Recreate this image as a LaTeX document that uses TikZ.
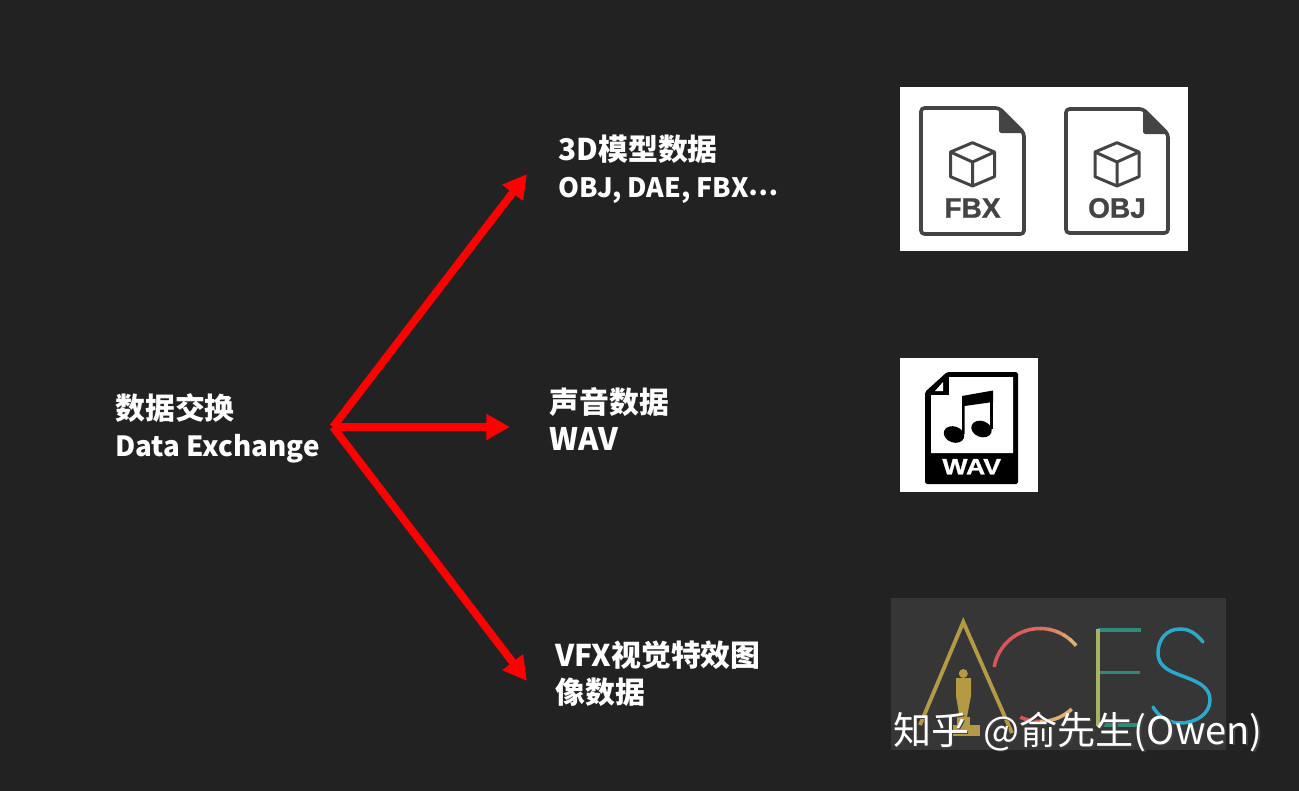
\documentclass[tikz,border=0pt]{standalone}
\usepackage{fontspec}
\setmainfont{Noto Sans CJK SC}
\newfontfamily\iconfont[BoldFont={Liberation Sans Bold},BoldFeatures={FakeBold=1}]{Liberation Sans}
\usetikzlibrary{arrows.meta}
\definecolor{bgdark}{HTML}{222222}
\definecolor{panelgray}{HTML}{363636}
\definecolor{icongray}{HTML}{444444}
\definecolor{gold}{HTML}{B59A45}
\definecolor{cred}{HTML}{D9555A}
\definecolor{ctan}{HTML}{E0B070}
\definecolor{egreen}{HTML}{A5B565}
\definecolor{eteal}{HTML}{2F8A78}
\definecolor{sblue}{HTML}{2BA8CC}
\newcommand{\latinA}{\fontsize{15.8}{21}\selectfont}
\newcommand{\latinB}{\fontsize{15.2}{21}\selectfont}
\newcommand{\latinC}{\fontsize{17.6}{21}\selectfont}
\tikzset{
  redarrow/.style={draw=red,line width=4.4pt,-{Triangle[length=13.5pt,width=14pt]}},
  label/.style={anchor=west,inner sep=0pt,align=left,text=white,font=\fontsize{17}{21.2}\selectfont\bfseries},
  filebox/.style={draw=icongray,line width=2.1pt,rounded corners=2pt,line join=round},
  cube/.style={draw=icongray,line width=1.7pt,line join=round},
  icontext/.style={inner sep=0pt,text=icongray,font=\fontsize{16}{18}\iconfont\bfseries},
  logoline/.style={line width=2pt},
  wmark/.style={inner sep=0pt,anchor=west,font=\fontsize{21.7}{24}\selectfont}
}
\begin{document}
\begin{tikzpicture}[x=0.02cm,y=-0.02cm]
\fill[bgdark](0,0)rectangle(1299,791);
\coordinate (hub) at (333,427);
\coordinate (modeltip) at (527,174);
\coordinate (soundtip) at (510,427);
\coordinate (vfxtip) at (527,681);
\foreach \e in {modeltip,soundtip,vfxtip}
  \draw[redarrow](hub)--(\e);
\node[label](xchg) at (115,428.5) {数据交换\\\latinA Data Exchange};
\node[label](model) at (558,169) {3D模型数据\\\latinB OBJ, DAE, FBX\raisebox{1.2pt}{⋯}};
\node[label](sound) at (549.5,419) {声音数据\\\latinC WAV};
\node[label](vfx) at (555,674) {VFX视觉特效图\\像数据};
% model files
\fill[white](900,87)rectangle(1188,251);
\draw[filebox](999,108)--(921,108)--(921,234)--(1024,234)--(1024,133)--cycle;
\fill[icongray,rounded corners=1pt](999,108)--(1024,133)--(999,133)--cycle;
\draw[filebox](1143,109)--(1066,109)--(1066,233)--(1168,233)--(1168,134)--cycle;
\fill[icongray,rounded corners=1pt](1143,109)--(1168,134)--(1143,134)--cycle;
\foreach \cx in {972.5,1117}{
  \draw[cube](\cx,142.7)--(\cx+22,152)--(\cx+22,176.7)--(\cx,186)--(\cx-22,176.7)--(\cx-22,152)--cycle;
  \draw[cube](\cx-22,152)--(\cx,162)--(\cx+22,152)(\cx,162)--(\cx,186);
}
\node[icontext](fbx) at (972.5,208) {FBX};
\node[icontext](obj) at (1117,208) {OBJ};
% wav file
\fill[white](900,358)rectangle(1038,492);
\fill[black,rounded corners=1pt](947,372)--(1018,372)--(1018,484)--(925,484)--(925,392)--cycle;
\fill[white](949,377)--(1013,377)--(1013,453)--(931,453)--(931,395)--(949,395)--cycle;
\fill[white](943,382)--(943,391)--(935,391)--cycle;
\fill[black](962,396)--(993,390.5)--(993,402)--(964.5,406)--(964.5,434)--(962,434)--cycle;
\fill[black](990,395)rectangle(993,429);
\fill[black,rotate around={-20:(954,434.5)}](954,434.5)ellipse[x radius=10.5,y radius=8];
\fill[black,rotate around={-20:(981.5,429)}](981.5,429)ellipse[x radius=10.5,y radius=8];
\node[inner sep=0pt,text=white,xscale=1.2,font=\fontsize{12.6}{14}\iconfont\bfseries](wav) at (971.7,466.7) {WAV};
% aces logo
\fill[panelgray](891,598)rectangle(1226,750);
\draw[gold,line width=2.2pt,line join=miter](920,725)--(963.3,622)--(1012,733);
\fill[gold](963.3,673.5)circle[radius=4.5];
\fill[gold](956,678)--(971,678)--(971,696)--(967,717)--(959.5,717)--(956,696)--cycle;
\fill[gold](953,725)--(980,725)--(980,736)--(953,736)--cycle;
\fill[gold](957,717)rectangle(970,725);
\foreach \a/\p in {170/0,160/0,150/0,140/0,130/4,120/8,110/14,100/22,90/32,80/45,70/62,60/82,50/100}
  \draw[ctan!\p!cred,logoline,domain=\a:\a-11,smooth,samples=4]plot({1040+46.5*cos(\x)},{675-46.5*sin(\x)});
\draw[cred,logoline,domain=245:270,smooth]plot({1040+46.5*cos(\x)},{675-46.5*sin(\x)});
\draw[ctan,logoline,domain=270:313,smooth]plot({1040+46.5*cos(\x)},{675-46.5*sin(\x)});
\draw[eteal,logoline](1098,630)--(1141,630)(1098,672.7)--(1140,672.7)(1098,725)--(1141,725);
\draw[egreen,logoline](1098,629)--(1098,726);
\draw[sblue,logoline,line cap=round](1203,642)..controls (1195,632) and (1188,629) .. (1180,629)
  ..controls (1166,629) and (1158,640) .. (1158,653)
  ..controls (1158,668) and (1172,672) .. (1185,677)
  ..controls (1198,682) and (1210,687) .. (1210,700)
  ..controls (1210,714) and (1196,723) .. (1180,723)
  ..controls (1168,723) and (1158,716) .. (1153,707);
% watermark
\node[wmark,text=black!75](wshadow) at (894.5,733.5) {知乎\hspace{3pt} @俞先生(Owen)};
\node[wmark,text=white](wtext) at (893,732) {知乎\hspace{3pt} @俞先生(Owen)};
\end{tikzpicture}
\end{document}
